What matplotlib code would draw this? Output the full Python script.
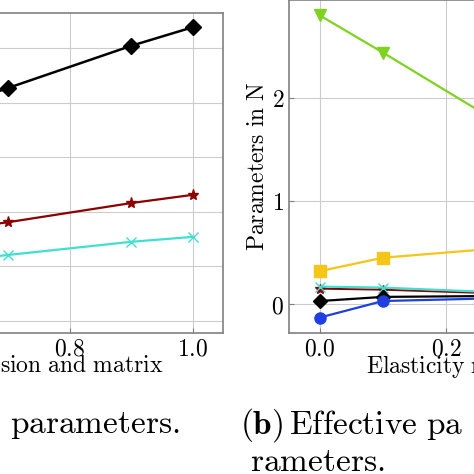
import matplotlib
matplotlib.use("Agg")
import matplotlib.pyplot as plt

plt.rcParams['mathtext.fontset'] = 'cm'
plt.rcParams['font.family'] = 'serif'
plt.rcParams['font.serif'] = ['DejaVu Serif']

# Left panel (units arbitrary; ticks not visible)
xl = [0.5, 0.7, 0.9, 1.0]
left_black = [3.5, 4.27, 5.04, 5.38]
left_red = [1.5, 1.81, 2.16, 2.31]
left_cyan = [0.95, 1.21, 1.45, 1.54]

# Right panel
xr = [0.0, 0.1, 0.3, 0.5]
r_green = [2.80, 2.44, 1.7, 1.2]
r_yellow = [0.32, 0.45, 0.55, 0.6]
r_cyan = [0.17, 0.16, 0.11, 0.09]
r_red = [0.15, 0.14, 0.10, 0.08]
r_black = [0.03, 0.07, 0.08, 0.08]
r_blue = [-0.13, 0.03, 0.06, 0.07]

fig = plt.figure(figsize=(4.74, 4.74), dpi=100)

def style(ax):
    ax.grid(True, color='#cccccc', lw=0.8)
    ax.set_axisbelow(True)
    for s in ax.spines.values():
        s.set_color('#808080')
        s.set_linewidth(1.2)
    ax.tick_params(direction='in', color='#808080', labelsize=17)

ax1 = fig.add_axes([-0.306, 0.2975, 0.776, 0.675])
ax1.plot(xl, left_black, '-D', color='black', ms=8, lw=1.8)
ax1.plot(xl, left_red, '-*', color='#8b0000', ms=8, lw=1.6)
ax1.plot(xl, left_cyan, '-x', color='#40e0d0', ms=7, lw=1.6)
ax1.set_xlim(0.45, 1.049)
ax1.set_ylim(-0.22, 5.64)
ax1.set_xticks([0.8, 1.0])
ax1.set_xticklabels([r'$0.8$', r'$1.0$'])
ax1.set_yticks([0, 1, 2, 3, 4, 5])
ax1.set_yticklabels([])
style(ax1)

ax2 = fig.add_axes([289/474, 0.2975, 0.863, 0.7025])
ax2.plot(xr, r_green, '-v', color='#7fd320', ms=8, lw=1.6)
ax2.plot(xr, r_yellow, '-s', color='#f5c518', ms=8, lw=1.6)
ax2.plot(xr, r_red, '-*', color='#8b0000', ms=7, lw=1.4)
ax2.plot(xr, r_cyan, '-x', color='#40e0d0', ms=7, lw=1.6)
ax2.plot(xr, r_black, '-D', color='black', ms=7, lw=1.6)
ax2.plot(xr, r_blue, '-o', color='#1f3fe0', ms=8, lw=1.6)
ax2.set_xlim(-0.049, 0.6)
ax2.set_ylim(-0.28, 2.95)
ax2.set_xticks([0.0, 0.2])
ax2.set_xticklabels([r'$0.0$', r'$0.2$'])
ax2.set_yticks([0, 1, 2])
ax2.set_yticklabels([r'$0$', r'$1$', r'$2$'])
ax2.set_ylabel(r'$\mathrm{Parameters\ in\ N}$', fontsize=17, labelpad=2)
style(ax2)

def fy(py):
    return 1 - py / 474

fig.text(0.0, fy(366), r'$\mathrm{sion\ and\ matrix}$', fontsize=17, ha='left', va='center')
fig.text(366/474, fy(366), r'$\mathrm{Elasticity\ matrix}$', fontsize=17, ha='left', va='center')
fig.text(10/474, fy(425), r'$\mathrm{parameters.}$', fontsize=24, ha='left', va='center')
fig.text(240/474, fy(425), r'$\mathbf{(b)}\,\mathrm{Effective\ pa}$', fontsize=24, ha='left', va='center')
fig.text(250/474, fy(462), r'$\mathrm{rameters.}$', fontsize=24, ha='left', va='center')

fig.savefig('out.png', dpi=100)
